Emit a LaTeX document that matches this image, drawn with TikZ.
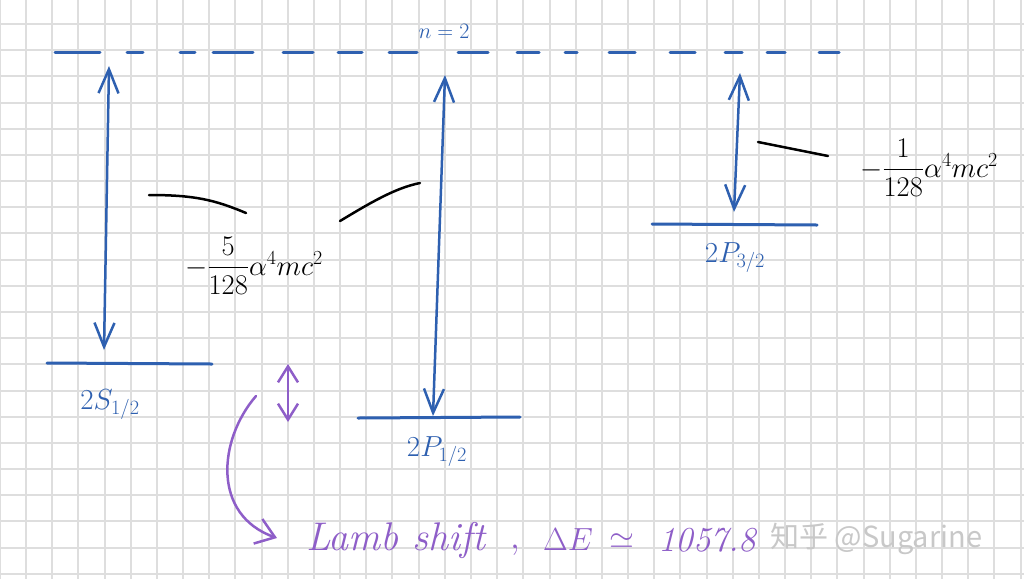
\RequirePackage{fix-cm}
\documentclass[tikz,border=0pt]{standalone}
\usepackage{amsmath}
\usepackage{fontspec}
\newfontfamily\cjk{Noto Sans CJK SC}
\usetikzlibrary{arrows.meta}
\definecolor{inkblue}{RGB}{46,96,176}
\definecolor{inkpurple}{RGB}{142,94,200}
\definecolor{gridgray}{RGB}{222,222,222}
\definecolor{wmgray}{RGB}{200,200,200}
\begin{document}
\begin{tikzpicture}[x=1pt,y=-1pt,
  gridline/.style={gridgray, line width=2pt},
  levelline/.style={inkblue, line width=3pt, line cap=round},
  gaparrow/.style={inkblue, line width=2.5pt, line cap=round,
    {Straight Barb[length=24pt,width=20pt]}-{Straight Barb[length=24pt,width=20pt]}},
  lambarrow/.style={inkpurple, line width=2.5pt, line cap=round,
    {Straight Barb[length=16pt,width=20pt]}-{Straight Barb[length=16pt,width=20pt]}},
  curvearrow/.style={inkpurple, line width=2.5pt, line cap=round,
    -{Straight Barb[length=18pt,width=26pt]}},
  pointer/.style={black, line width=2.5pt, line cap=round},
  lbl/.style={inkblue, inner sep=0pt, font=\fontsize{29}{33}\selectfont},
  nlbl/.style={inkblue, inner sep=0pt, font=\fontsize{22}{26}\selectfont},
  flbl/.style={black, inner sep=0pt, font=\fontsize{28.5}{32}\selectfont},
  ptext/.style={inkpurple, inner sep=0pt, anchor=base west},
  wmtext/.style={wmgray, inner sep=0pt, anchor=base west, font=\fontsize{29}{34}\cjk}
]
\useasboundingbox (0,0) rectangle (1024,579);
\fill[white] (0,0) rectangle (1024,579);
% grid paper
\foreach \i in {-1,...,38} {\draw[gridline] ({26.1+26.17*\i},0) -- ({26.1+26.17*\i},579);}
\foreach \j in {0,...,21} {\draw[gridline] (0,{24+26.18*\j}) -- (1024,{24+26.18*\j});}

% n = 2 dashed level
\foreach \a/\b in {55/100,127/143,180/195,213/253,283/313,338/362,389/417,458/488,517/539,565/577,609/635,670/695,725/742,767/785,819/839}
  {\draw[levelline] (\a,52) -- (\b,52);}
\node[nlbl] (n2) at (444,31) {$n=2$};

% levels
\coordinate (s2L) at (47,363);  \coordinate (s2R) at (212,364);
\coordinate (p1L) at (358,418); \coordinate (p1R) at (520,417);
\coordinate (p3L) at (652,224); \coordinate (p3R) at (817,225);
\draw[levelline] (s2L) -- (s2R);
\draw[levelline] (p1L) -- (p1R);
\draw[levelline] (p3L) -- (p3R);
\node[lbl] (l2S) at (110,405) {$2S_{1/2}$};
\node[lbl] (l2P1) at (437,452) {$2P_{1/2}$};
\node[lbl] (l2P3) at (735,258) {$2P_{3/2}$};

% energy shift arrows
\coordinate (aSt) at (109,66);  \coordinate (aSb) at (104,350);
\coordinate (aP1t) at (445,75); \coordinate (aP1b) at (433,416);
\coordinate (aP3t) at (740,73); \coordinate (aP3b) at (734,212);
\draw[gaparrow] (aSt) -- (aSb);
\draw[gaparrow] (aP1t) -- (aP1b);
\draw[gaparrow] (aP3t) -- (aP3b);

% pointer lines and shift labels
\coordinate (pa1) at (149,195); \coordinate (pa2) at (246,213);
\coordinate (pb1) at (340,221); \coordinate (pb2) at (420,183);
\coordinate (pc1) at (758,142); \coordinate (pc2) at (828,156);
\draw[pointer] (pa1) .. controls (195,195) and (215,200) .. (pa2);
\draw[pointer] (pb1) .. controls (370,203) and (395,188) .. (pb2);
\draw[pointer] (pc1) -- (pc2);
\node[flbl] (f5) at (254,266) {$-\dfrac{5}{128}\alpha^4 mc^2$};
\node[flbl] (f1) at (929,168) {$-\dfrac{1}{128}\alpha^4 mc^2$};

% Lamb shift
\coordinate (lt) at (288,364); \coordinate (lb) at (288,422);
\draw[lambarrow] (lt) -- (lb);
\coordinate (cs) at (256,396); \coordinate (ce) at (277,538);
\draw[curvearrow] (cs) .. controls (218,440) and (212,515) .. (ce);
\node[ptext, font=\fontsize{40}{46}\selectfont\itshape] (lamb) at (306,550) {Lamb shift};
\node[ptext, font=\fontsize{36}{40}\selectfont] (comma) at (510,548) {$,$};
\node[ptext, font=\fontsize{32}{36}\selectfont] (dE) at (543,550) {$\Delta E$};
\node[ptext, font=\fontsize{32}{36}\selectfont] (approx) at (609,548) {$\simeq$};
\node[ptext, font=\fontsize{35}{40}\selectfont\itshape] (val) at (658,551) {1057.8};
\node[wmtext] (wm) at (770,547) {知乎 @Sugarine};
\end{tikzpicture}
\end{document}
